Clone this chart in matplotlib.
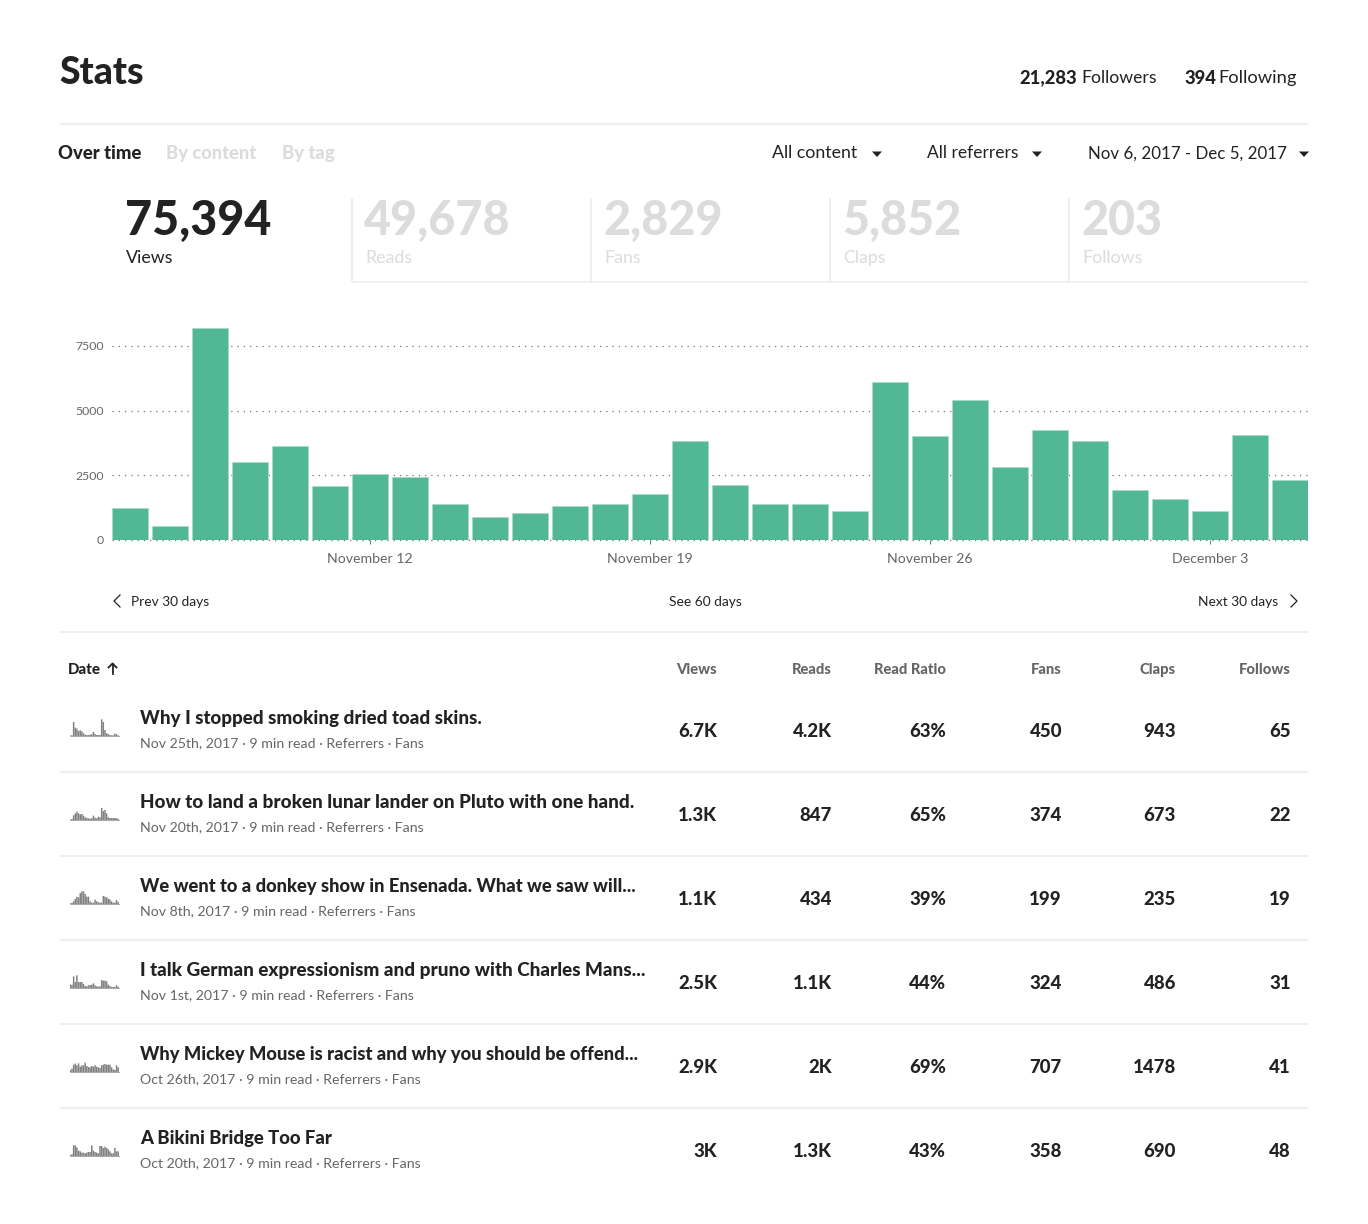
import matplotlib
matplotlib.use("Agg")
import matplotlib.pyplot as plt

plt.rcParams['font.family'] = ['Lato', 'DejaVu Sans']

W, H = 1368, 1224

# daily views
views = [1237, 560, 8195, 3015, 3630, 2090, 2550, 2435, 1390, 870,
         1040, 1310, 1390, 1780, 3825, 2130, 1410, 1410, 1120, 6105,
         4020, 5410, 2820, 4250, 3825, 1930, 1585, 1140, 4060, 2320]
y_ticks = [0, 2500, 5000, 7500]
x_tick_days = [6, 13, 20, 27]
x_tick_labels = ["November 12", "November 19", "November 26", "December 3"]

tab_numbers = ["75,394", "49,678", "2,829", "5,852", "203"]
tab_names = ["Views", "Reads", "Fans", "Claps", "Follows"]

headers = ["Views", "Reads", "Read Ratio", "Fans", "Claps", "Follows"]
titles = ["Why I stopped smoking dried toad skins.",
          "How to land a broken lunar lander on Pluto with one hand.",
          "We went to a donkey show in Ensenada. What we saw will...",
          "I talk German expressionism and pruno with Charles Mans...",
          "Why Mickey Mouse is racist and why you should be offend...",
          "A Bikini Bridge Too Far"]
dates = ["Nov 25th, 2017", "Nov 20th, 2017", "Nov 8th, 2017",
         "Nov 1st, 2017", "Oct 26th, 2017", "Oct 20th, 2017"]
col_views = ["6.7K", "1.3K", "1.1K", "2.5K", "2.9K", "3K"]
col_reads = ["4.2K", "847", "434", "1.1K", "2K", "1.3K"]
col_ratio = ["63%", "65%", "39%", "44%", "69%", "43%"]
col_fans = ["450", "374", "199", "324", "707", "358"]
col_claps = ["943", "673", "235", "486", "1478", "690"]
col_follows = ["65", "22", "19", "31", "41", "48"]

spark1 = [2, 2, 42, 25, 22, 15, 17, 14, 8, 4, 3, 3, 4, 5, 12, 6, 3, 3, 3, 50, 42, 18, 8, 6, 3, 2, 2, 7, 5, 2]
spark2 = [2, 3, 14, 20, 25, 20, 17, 18, 13, 8, 6, 5, 4, 5, 13, 7, 5, 10, 8, 36, 27, 30, 20, 8, 6, 6, 6, 6, 6, 3]
spark3 = [2, 3, 8, 15, 22, 20, 33, 38, 38, 30, 22, 22, 8, 4, 4, 13, 8, 5, 4, 4, 24, 22, 20, 16, 14, 8, 4, 4, 12, 6]
spark4 = [10, 10, 35, 18, 38, 18, 18, 18, 12, 6, 5, 8, 9, 10, 14, 8, 5, 4, 5, 24, 22, 22, 20, 10, 6, 3, 3, 3, 8, 4]
spark5 = [6, 10, 22, 25, 20, 26, 16, 20, 20, 28, 18, 15, 14, 18, 16, 20, 16, 14, 12, 20, 22, 24, 22, 22, 22, 14, 8, 6, 20, 14]
spark6 = [3, 5, 32, 32, 26, 16, 14, 10, 10, 8, 10, 12, 12, 32, 16, 12, 10, 8, 30, 30, 24, 28, 24, 20, 14, 8, 8, 24, 14, 14]
sparks = [spark1, spark2, spark3, spark4, spark5, spark6]

DARK = '#222222'
GREY = '#666666'
FAINT = '#dcdcdc'
RULE = '#ececec'
GREEN = '#52b795'
HEAVY = 900

# Lato runs wider than the original face on some lines, so sizes are per row
title_sizes = [13.5, 13.55, 13.2, 13.55, 13.25, 13.3]

fig = plt.figure(figsize=(W / 100, H / 100), dpi=100, facecolor='white')


def px_axes(left, top, right, bottom):
    return fig.add_axes([left / W, 1 - bottom / H, (right - left) / W, (bottom - top) / H])


# overlay in pixel coordinates for the page furniture
page = px_axes(0, 0, W, H)
page.set_xlim(0, W)
page.set_ylim(H, 0)
page.axis('off')


def txt(x, y, s, size, color=DARK, weight='normal', ha='left'):
    page.text(x, y + 1, s, fontsize=size, color=color, fontweight=weight, ha=ha, va='center')


def rule(x0, y0, x1, y1, color=RULE, lw=1.2):
    page.plot([x0, x1], [y0, y1], color=color, lw=lw, solid_capstyle='butt')


def caret(x, y):
    page.fill([x - 5, x + 5, x], [y - 2.5, y - 2.5, y + 3], color=DARK, lw=0)


txt(59, 71.5, "Stats", 27, weight=HEAVY)
txt(1019, 77, "21,283", 13.2, weight=HEAVY)
txt(1081, 77, "Followers", 12.7)
txt(1184, 77, "394", 13.2, weight=HEAVY)
txt(1218, 77, "Following", 13.2)
rule(60, 124, 1308, 124)

txt(58, 152.5, "Over time", 13.3, weight=HEAVY)
txt(166, 152.5, "By content", 13.2, color=FAINT, weight=HEAVY)
txt(282, 152.5, "By tag", 13.3, color=FAINT, weight=HEAVY)

txt(772, 152.5, "All content", 12.8)
txt(927, 152.5, "All referrers", 12.5)
txt(1088, 152.5, "Nov 6, 2017 - Dec 5, 2017", 12.2)
caret(877, 154)
caret(1037, 154)
caret(1304, 154)

# stat tabs
tab_x = [125, 364, 603, 842, 1081]
for i in range(5):
    c = DARK if i == 0 else FAINT
    txt(tab_x[i], 220, tab_numbers[i], 33.6, color=c, weight=HEAVY)
    txt(tab_x[i] + 1, 257, tab_names[i], 12.8, color=c)
for x in [352, 591, 830, 1069]:
    rule(x, 198, x, 282)
rule(352, 282, 1308, 282)

# main bar chart
ax = px_axes(112, 320, 1308, 540)
ax.patch.set_alpha(0)
px_per_unit = 194 / 7500
ax.set_ylim(0, 220 / px_per_unit)
ax.set_xlim(-0.45, 29.45)
ax.bar(range(30), views, width=0.9, color=GREEN, edgecolor='#a5dcc8', linewidth=0.5, zorder=3)
ax.set_axisbelow(True)
ax.yaxis.grid(True, color='#777777', lw=0.9, ls=(0, (1, 4)))
ax.xaxis.grid(False)
for s in ax.spines.values():
    s.set_visible(False)
ax.axhline(0, color='#777777', lw=0.9, ls=(0, (1, 4)), zorder=4, clip_on=False)
ax.set_yticks(y_ticks)
ax.set_yticklabels([str(v) for v in y_ticks])
ax.set_xticks(x_tick_days)
ax.set_xticklabels(x_tick_labels)
ax.tick_params(axis='y', length=0, pad=6, labelsize=8.8, labelcolor=GREY)
ax.tick_params(axis='x', length=3, width=0.7, color='#777777', pad=6.3, labelsize=10.2, labelcolor=GREY)

# pager row
txt(131, 601, "Prev 30 days", 9.9)
txt(705, 601, "See 60 days", 9.9, ha='center')
txt(1278, 601, "Next 30 days", 9.9, ha='right')
page.plot([120, 114, 120], [595, 601, 607], color=DARK, lw=0.9)
page.plot([1291, 1297, 1291], [595, 601, 607], color=DARK, lw=0.9)
rule(60, 632, 1308, 632)

# table
col_right = [717, 832, 946, 1062, 1176, 1291]
columns = [col_views, col_reads, col_ratio, col_fans, col_claps, col_follows]
txt(68, 669, "Date", 10.8, weight=HEAVY)
page.plot([112.5, 112.5], [674, 664], color=DARK, lw=1.3)
page.plot([108.5, 112.5, 116.5], [667.5, 663.5, 667.5], color=DARK, lw=1.3)
for x, h in zip(col_right, headers):
    txt(x, 669, h, 10.6, color=GREY, weight=HEAVY, ha='right')

for i in range(6):
    top = 84 * i
    txt(140, 717.5 + top, titles[i], title_sizes[i], weight=HEAVY)
    txt(140, 742 + top, dates[i] + " · 9 min read · Referrers · Fans", 10.2, color=GREY)
    for x, col in zip(col_right, columns):
        txt(x, 730.5 + top, col[i], 13.4, weight=HEAVY, ha='right')
    if i < 5:
        rule(60, 772 + top, 1308, 772 + top)
    sp = px_axes(69.5, 716 + top, 119, 736 + top)
    sp.bar(range(30), sparks[i], width=0.9, color='#808080', snap=False, linewidth=0)
    sp.set_xlim(-0.5, 29.5)
    sp.set_ylim(0, 60)
    sp.axis('off')
    page.plot([69.5, 119], [736 + top, 736 + top], color='#999999', lw=0.6)

fig.savefig("out.png", dpi=100)
